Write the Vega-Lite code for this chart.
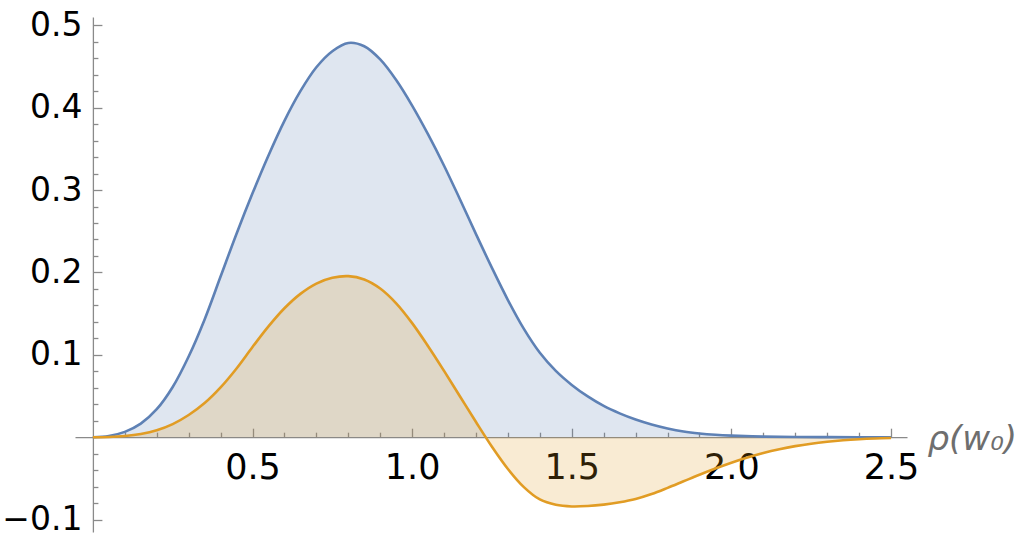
{
  "$schema": "https://vega.github.io/schema/vega-lite/v6.json",
  "width": 832,
  "height": 515,
  "autosize": {"type": "none"},
  "padding": {"left": 75, "top": 17, "right": 118, "bottom": 11},
  "background": "white",
  "config": {"view": {"stroke": null}},
  "datasets": {
    "curves": [
      {"s": "a", "x": 0, "y": 0},
      {"s": "a", "x": 0.05, "y": 0.0015},
      {"s": "a", "x": 0.1, "y": 0.0065},
      {"s": "a", "x": 0.15, "y": 0.0165},
      {"s": "a", "x": 0.2, "y": 0.034},
      {"s": "a", "x": 0.25, "y": 0.061},
      {"s": "a", "x": 0.3, "y": 0.098},
      {"s": "a", "x": 0.35, "y": 0.143},
      {"s": "a", "x": 0.4, "y": 0.195},
      {"s": "a", "x": 0.45, "y": 0.247},
      {"s": "a", "x": 0.5, "y": 0.296},
      {"s": "a", "x": 0.55, "y": 0.342},
      {"s": "a", "x": 0.6, "y": 0.384},
      {"s": "a", "x": 0.65, "y": 0.42},
      {"s": "a", "x": 0.7, "y": 0.449},
      {"s": "a", "x": 0.75, "y": 0.4685},
      {"s": "a", "x": 0.8, "y": 0.4785},
      {"s": "a", "x": 0.85, "y": 0.4745},
      {"s": "a", "x": 0.9, "y": 0.4585},
      {"s": "a", "x": 0.95, "y": 0.4335},
      {"s": "a", "x": 1.0, "y": 0.4025},
      {"s": "a", "x": 1.05, "y": 0.3675},
      {"s": "a", "x": 1.1, "y": 0.3295},
      {"s": "a", "x": 1.15, "y": 0.2885},
      {"s": "a", "x": 1.2, "y": 0.2465},
      {"s": "a", "x": 1.25, "y": 0.2055},
      {"s": "a", "x": 1.3, "y": 0.1665},
      {"s": "a", "x": 1.35, "y": 0.1315},
      {"s": "a", "x": 1.4, "y": 0.1025},
      {"s": "a", "x": 1.45, "y": 0.0805},
      {"s": "a", "x": 1.5, "y": 0.0635},
      {"s": "a", "x": 1.55, "y": 0.0495},
      {"s": "a", "x": 1.6, "y": 0.038},
      {"s": "a", "x": 1.65, "y": 0.029},
      {"s": "a", "x": 1.7, "y": 0.0215},
      {"s": "a", "x": 1.75, "y": 0.0155},
      {"s": "a", "x": 1.8, "y": 0.0107},
      {"s": "a", "x": 1.85, "y": 0.007},
      {"s": "a", "x": 1.9, "y": 0.0046},
      {"s": "a", "x": 1.95, "y": 0.003},
      {"s": "a", "x": 2.0, "y": 0.002},
      {"s": "a", "x": 2.1, "y": 0.0008},
      {"s": "a", "x": 2.2, "y": 0.0003},
      {"s": "a", "x": 2.3, "y": 0.0001},
      {"s": "a", "x": 2.4, "y": 0.00003},
      {"s": "a", "x": 2.5, "y": 0},
      {"s": "b", "x": 0, "y": 0},
      {"s": "b", "x": 0.05, "y": 0.0003},
      {"s": "b", "x": 0.1, "y": 0.0015},
      {"s": "b", "x": 0.15, "y": 0.004},
      {"s": "b", "x": 0.2, "y": 0.0085},
      {"s": "b", "x": 0.25, "y": 0.016},
      {"s": "b", "x": 0.3, "y": 0.027},
      {"s": "b", "x": 0.35, "y": 0.0415},
      {"s": "b", "x": 0.4, "y": 0.0605},
      {"s": "b", "x": 0.45, "y": 0.0835},
      {"s": "b", "x": 0.5, "y": 0.1095},
      {"s": "b", "x": 0.55, "y": 0.1345},
      {"s": "b", "x": 0.6, "y": 0.1565},
      {"s": "b", "x": 0.65, "y": 0.174},
      {"s": "b", "x": 0.7, "y": 0.1865},
      {"s": "b", "x": 0.75, "y": 0.1935},
      {"s": "b", "x": 0.8, "y": 0.1955},
      {"s": "b", "x": 0.85, "y": 0.1915},
      {"s": "b", "x": 0.9, "y": 0.1805},
      {"s": "b", "x": 0.95, "y": 0.1625},
      {"s": "b", "x": 1.0, "y": 0.1385},
      {"s": "b", "x": 1.05, "y": 0.1105},
      {"s": "b", "x": 1.1, "y": 0.0805},
      {"s": "b", "x": 1.15, "y": 0.0495},
      {"s": "b", "x": 1.2, "y": 0.0185},
      {"s": "b", "x": 1.25, "y": -0.0115},
      {"s": "b", "x": 1.3, "y": -0.0385},
      {"s": "b", "x": 1.35, "y": -0.0605},
      {"s": "b", "x": 1.4, "y": -0.0755},
      {"s": "b", "x": 1.45, "y": -0.082},
      {"s": "b", "x": 1.5, "y": -0.084},
      {"s": "b", "x": 1.55, "y": -0.0835},
      {"s": "b", "x": 1.6, "y": -0.0818},
      {"s": "b", "x": 1.65, "y": -0.079},
      {"s": "b", "x": 1.7, "y": -0.075},
      {"s": "b", "x": 1.75, "y": -0.069},
      {"s": "b", "x": 1.8, "y": -0.0615},
      {"s": "b", "x": 1.85, "y": -0.0535},
      {"s": "b", "x": 1.9, "y": -0.0455},
      {"s": "b", "x": 1.95, "y": -0.038},
      {"s": "b", "x": 2.0, "y": -0.031},
      {"s": "b", "x": 2.05, "y": -0.0247},
      {"s": "b", "x": 2.1, "y": -0.0192},
      {"s": "b", "x": 2.15, "y": -0.0146},
      {"s": "b", "x": 2.2, "y": -0.0108},
      {"s": "b", "x": 2.25, "y": -0.0078},
      {"s": "b", "x": 2.3, "y": -0.0055},
      {"s": "b", "x": 2.35, "y": -0.0037},
      {"s": "b", "x": 2.4, "y": -0.0024},
      {"s": "b", "x": 2.45, "y": -0.0015},
      {"s": "b", "x": 2.5, "y": -0.0009}
    ]
  },
  "data": {"name": "curves"},
  "encoding": {
    "x": {
      "field": "x",
      "type": "quantitative",
      "scale": {"domain": [-0.056, 2.55], "nice": false, "zero": false},
      "axis": {
        "orient": "bottom",
        "offset": -94.8,
        "values": [0.1, 0.2, 0.3, 0.4, 0.5, 0.6, 0.7, 0.8, 0.9, 1.0, 1.1, 1.2, 1.3, 1.4, 1.5, 1.6, 1.7, 1.8, 1.9, 2.0, 2.1, 2.2, 2.3, 2.4, 2.5],
        "labelExpr": "abs(datum.value*2-round(datum.value*2))<0.001 ? format(datum.value,'.1f') : ''",
        "labelFont": "DejaVu Sans",
        "labelFontSize": 35,
        "labelColor": "#000000",
        "labelPadding": 22,
        "labelOverlap": false,
        "labelFlush": false,
        "labelBound": false,
        "domainColor": "#8a8a8a",
        "domainWidth": 1.3,
        "tickColor": "#8a8a8a",
        "tickWidth": 1.3,
        "tickSize": {"condition": {"test": "abs(datum.value*2-round(datum.value*2))<0.001", "value": -9}, "value": -5},
        "grid": false,
        "title": "ρ(w₀)",
        "titleX": 852,
        "titleY": 2,
        "titleAlign": "left",
        "titleBaseline": "middle",
        "titleAngle": 0,
        "titleFont": "DejaVu Sans",
        "titleFontSize": 34,
        "titleFontStyle": "italic",
        "titleFontWeight": "normal",
        "titleColor": "#6e6e6e"
      }
    },
    "y": {
      "field": "y",
      "type": "quantitative",
      "stack": null,
      "scale": {"domain": [-0.115, 0.51], "nice": false, "zero": false},
      "axis": {
        "orient": "left",
        "offset": -17.9,
        "values": [-0.1, -0.08, -0.06, -0.04, -0.02, 0.02, 0.04, 0.06, 0.08, 0.1, 0.12, 0.14, 0.16, 0.18, 0.2, 0.22, 0.24, 0.26, 0.28, 0.3, 0.32, 0.34, 0.36, 0.38, 0.4, 0.42, 0.44, 0.46, 0.48, 0.5],
        "labelExpr": "abs(datum.value*10-round(datum.value*10))<0.001 ? format(datum.value,'.1f') : ''",
        "labelFont": "DejaVu Sans",
        "labelFontSize": 33,
        "labelColor": "#000000",
        "labelPadding": 20,
        "labelOverlap": false,
        "labelFlush": false,
        "labelBound": false,
        "domainColor": "#8a8a8a",
        "domainWidth": 1.3,
        "tickColor": "#8a8a8a",
        "tickWidth": 1.3,
        "tickSize": {"condition": {"test": "abs(datum.value*10-round(datum.value*10))<0.001", "value": -9}, "value": -5},
        "grid": false,
        "title": null
      }
    },
    "color": {
      "field": "s",
      "type": "nominal",
      "scale": {"domain": ["a", "b"], "range": ["#5E81B5", "#E19C24"]},
      "legend": null
    }
  },
  "layer": [
    {
      "mark": {"type": "area", "fillOpacity": 0.2, "interpolate": "catmull-rom"},
      "encoding": {"y2": {"datum": 0}}
    },
    {
      "mark": {"type": "line", "strokeWidth": 2.6, "interpolate": "catmull-rom"}
    }
  ]
}
